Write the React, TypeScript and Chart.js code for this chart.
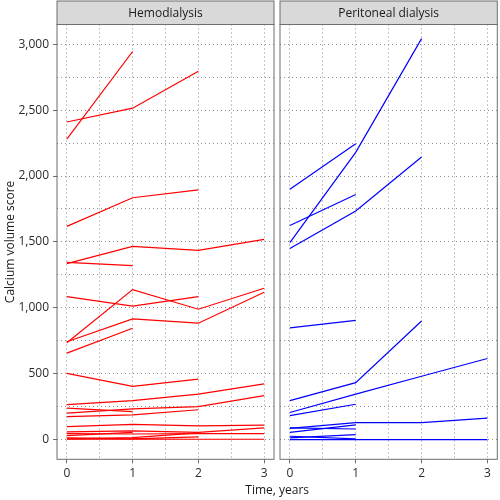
import React, { useEffect, useRef } from "react";
import { Chart, registerables } from "chart.js";

Chart.register(...registerables);

// ---------- data ----------
const years = [0, 1, 2, 3];
const panelTitles = ["Hemodialysis", "Peritoneal dialysis"];
const xAxisTitle = "Time, years";
const yAxisTitle = "Calcium volume score";
const yMajorTicks = [0, 500, 1000, 1500, 2000, 2500, 3000];
const yGridTicks = [0, 250, 500, 750, 1000, 1250, 1500, 1750, 2000, 2250, 2500, 2750, 3000];
const xMajorTicks = [0, 1, 2, 3];
const xGridTicks = [0, 0.5, 1, 1.5, 2, 2.5, 3];

const hemodialysisSeries: number[][] = [
  [2280, 2945],
  [2410, 2515, 2795],
  [1618, 1835, 1895],
  [1335, 1466, 1436, 1519],
  [1345, 1320],
  [1085, 1012, 1085],
  [734, 1138, 989, 1148],
  [742, 916, 883, 1118],
  [656, 845],
  [502, 404, 459],
  [265, 295, 344, 422],
  [238, 212],
  [200, 232, 250, 333],
  [174, 187, 226],
  [98, 115, 103, 110],
  [58, 65, 55, 88],
  [45, 42, 45, 45],
  [5, 15, 50],
  [30, 55],
  [2, 3, 2, 2],
  [12, 5, 20],
];

const peritonealSeries: number[][] = [
  [1495, 2180, 3043],
  [1900, 2245],
  [1625, 1860],
  [1450, 1735, 2145],
  [848, 905],
  [295, 432, 900],
  [205, 345, 480, 615],
  [182, 268],
  [85, 128, 128, 162],
  [55, 112],
  [88, 80],
  [12, 38],
  [0, 0, 0, 0],
  [25, 5],
];

// ---------- layout / style ----------
const W = 500;
const H = 500;
const STRIP_TOP = 1;
const PANEL_TOP = 24.5;
const PANEL_BOTTOM = 459.3;
const PANEL_BOUNDS = [
  { left: 57, right: 274 },
  { left: 280, right: 497.3 },
];
const X_MIN = -0.15;
const X_MAX = 3.15;
const Y_MIN = -150;
const Y_MAX = 3150;
const FONT = "'Open Sans', 'Noto Sans', sans-serif";
const TEXT_COLOR = "#1a1a1a";
const TICK_TEXT = "#2b2b2b";
const GRID_COLOR = "#8f8f8f";
const BORDER_COLOR = "#6e6e6e";
const STRIP_FILL = "#d9d9d9";
const SERIES_COLORS = ["#ff0000", "#0000ff"];

const facetPlugin = {
  id: "facet",
  afterDraw(chart: any, _args: any, opts: any) {
    const { ctx, chartArea: a } = chart;
    ctx.save();
    ctx.lineWidth = 1;
    ctx.strokeStyle = BORDER_COLOR;
    ctx.fillStyle = STRIP_FILL;
    ctx.fillRect(a.left, STRIP_TOP, a.right - a.left, a.top - STRIP_TOP);
    ctx.strokeRect(a.left, STRIP_TOP, a.right - a.left, a.top - STRIP_TOP);
    ctx.strokeRect(a.left, a.top, a.right - a.left, a.bottom - a.top);
    ctx.fillStyle = TEXT_COLOR;
    ctx.font = `12px ${FONT}`;
    ctx.textAlign = "center";
    ctx.textBaseline = "middle";
    ctx.fillText(opts.title, (a.left + a.right) / 2, (STRIP_TOP + a.top) / 2 + 0.5);
    if (opts.xTitle) {
      ctx.fillText(opts.xTitle, opts.xTitleX, opts.xTitleY);
    }
    ctx.restore();
  },
};

function makeChart(canvas: HTMLCanvasElement, idx: number) {
  const series = idx === 0 ? hemodialysisSeries : peritonealSeries;
  const bounds = PANEL_BOUNDS[idx];
  const datasets = series.map((vals) => ({
    data: vals.map((v, i) => ({ x: years[i], y: v })),
    borderColor: SERIES_COLORS[idx],
    borderWidth: 1.2,
    pointRadius: 0,
    tension: 0,
    fill: false,
  }));
  const isFirst = idx === 0;
  return new Chart(canvas, {
    type: "line",
    data: { datasets },
    plugins: [facetPlugin],
    options: {
      responsive: false,
      animation: false,
      events: [],
      layout: { padding: { top: PANEL_TOP, right: W - bounds.right, left: 0, bottom: 0 } },
      plugins: {
        legend: { display: false },
        tooltip: { enabled: false },
        facet: {
          title: panelTitles[idx],
          xTitle: isFirst ? xAxisTitle : "",
          xTitleX: (PANEL_BOUNDS[0].left + PANEL_BOUNDS[1].right) / 2,
          xTitleY: 491,
        },
      } as any,
      scales: {
        x: {
          type: "linear",
          min: X_MIN,
          max: X_MAX,
          afterBuildTicks: (s: any) => {
            s.ticks = xGridTicks.map((v) => ({ value: v }));
          },
          afterFit: (s: any) => {
            s.height = H - PANEL_BOTTOM;
          },
          ticks: {
            autoSkip: false,
            maxRotation: 0,
            padding: 3,
            color: TICK_TEXT,
            font: { family: FONT, size: 12 },
            callback: (v: any) => (xMajorTicks.includes(Number(v)) ? String(v) : ""),
          },
          grid: {
            color: GRID_COLOR,
            lineWidth: 1,
            tickLength: 4,
            tickColor: (c: any) =>
              c.tick && xMajorTicks.includes(c.tick.value) ? BORDER_COLOR : "rgba(0,0,0,0)",
          },
          border: { display: false, dash: [1, 3] },
        },
        y: {
          type: "linear",
          min: Y_MIN,
          max: Y_MAX,
          afterBuildTicks: (s: any) => {
            s.ticks = yGridTicks.map((v) => ({ value: v }));
          },
          afterFit: (s: any) => {
            s.width = bounds.left;
          },
          title: {
            display: isFirst,
            text: yAxisTitle,
            color: TEXT_COLOR,
            font: { family: FONT, size: 12 },
            padding: { top: 3, bottom: 0 },
          },
          ticks: {
            display: isFirst,
            autoSkip: false,
            padding: 4,
            color: TICK_TEXT,
            font: { family: FONT, size: 12 },
            callback: (v: any) =>
              yMajorTicks.includes(Number(v)) ? Number(v).toLocaleString("en-US") : "",
          },
          grid: {
            color: GRID_COLOR,
            lineWidth: 1,
            drawTicks: isFirst,
            tickLength: 4,
            tickColor: (c: any) =>
              c.tick && yMajorTicks.includes(c.tick.value) ? BORDER_COLOR : "rgba(0,0,0,0)",
          },
          border: { display: false, dash: [1, 3] },
        },
      },
    } as any,
  });
}

export default function App() {
  const ref1 = useRef<HTMLCanvasElement>(null);
  const ref2 = useRef<HTMLCanvasElement>(null);
  useEffect(() => {
    const c1 = makeChart(ref1.current!, 0);
    const c2 = makeChart(ref2.current!, 1);
    return () => {
      c1.destroy();
      c2.destroy();
    };
  }, []);
  const canvasStyle: React.CSSProperties = {
    position: "absolute",
    left: 0,
    top: 0,
    width: W,
    height: H,
  };
  return (
    <div
      style={{
        position: "fixed",
        left: 0,
        top: 0,
        width: W,
        height: H,
        background: "#ffffff",
        overflow: "hidden",
      }}
    >
      <canvas ref={ref1} width={W} height={H} style={canvasStyle} />
      <canvas ref={ref2} width={W} height={H} style={canvasStyle} />
    </div>
  );
}
